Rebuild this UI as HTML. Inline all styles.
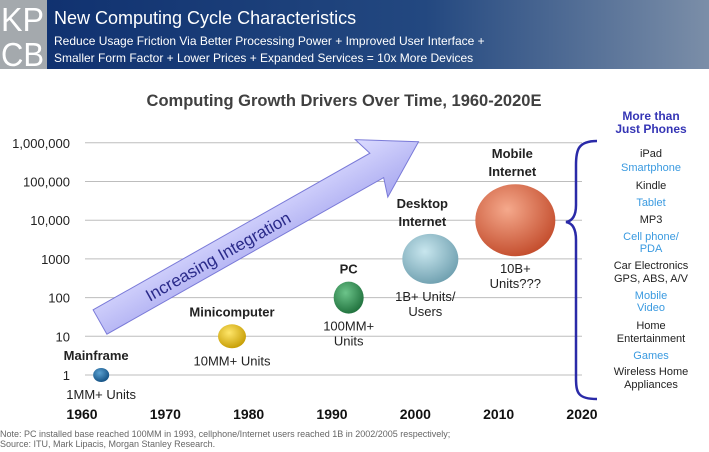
<!DOCTYPE html>
<html><head><meta charset="utf-8"><style>
body{margin:0;width:709px;height:452px;overflow:hidden;background:#fff;font-family:"Liberation Sans",sans-serif}
</style></head><body>
<svg width="709" height="452" xmlns="http://www.w3.org/2000/svg" style="position:absolute;left:0;top:0" font-family="Liberation Sans, sans-serif">
<defs>
<linearGradient id="hdr" x1="0" x2="1"><stop offset="0" stop-color="#0e2f6e"/><stop offset="0.6" stop-color="#234880"/><stop offset="1" stop-color="#7b8ea8"/></linearGradient>
<radialGradient id="gb" cx="0.4" cy="0.35" r="0.7"><stop offset="0" stop-color="#5aa0d0"/><stop offset="1" stop-color="#104d80"/></radialGradient>
<radialGradient id="gy" cx="0.4" cy="0.35" r="0.7"><stop offset="0" stop-color="#ffe66a"/><stop offset="1" stop-color="#c49a00"/></radialGradient>
<radialGradient id="gg" cx="0.4" cy="0.35" r="0.7"><stop offset="0" stop-color="#6cc48a"/><stop offset="1" stop-color="#1d6e3a"/></radialGradient>
<radialGradient id="gc" cx="0.4" cy="0.35" r="0.7"><stop offset="0" stop-color="#c8e6ee"/><stop offset="1" stop-color="#6d9eae"/></radialGradient>
<radialGradient id="gr" cx="0.4" cy="0.35" r="0.7"><stop offset="0" stop-color="#f5a98c"/><stop offset="1" stop-color="#c24a2a"/></radialGradient>
<linearGradient id="ga" x1="0" x2="0" y1="0" y2="1"><stop offset="0" stop-color="#dcdcff"/><stop offset="1" stop-color="#a9a9f0"/></linearGradient>
</defs>
<rect x="0" y="0" width="709" height="69" fill="url(#hdr)"/>
<rect x="0" y="0" width="47" height="69" fill="#a4a9ad"/>
<text x="1" y="31" font-size="33" fill="#fff" textLength="43" lengthAdjust="spacingAndGlyphs">KP</text>
<text x="1" y="66" font-size="33" fill="#fff" textLength="43" lengthAdjust="spacingAndGlyphs">CB</text>
<text x="54" y="24" font-size="18" fill="#fff">New Computing Cycle Characteristics</text>
<text x="54" y="45" font-size="12" fill="#fff">Reduce Usage Friction Via Better Processing Power + Improved User Interface +</text>
<text x="54" y="62" font-size="12" fill="#fff">Smaller Form Factor + Lower Prices + Expanded Services = 10x More Devices</text>
<text x="344" y="106" font-size="16.5" font-weight="bold" fill="#404040" text-anchor="middle">Computing Growth Drivers Over Time, 1960-2020E</text>
<g id="grid"></g>
<g transform="translate(100,322) rotate(-29.5)">
<polygon points="0,-14 318,-14 312,-33 366,0 312,33 318,14 0,14" fill="url(#ga)" stroke="#7a7ad8" stroke-width="1"/>
<text x="135" y="7" font-size="17" fill="#2a2a8a" text-anchor="middle">Increasing Integration</text>
</g>
<g id="marks"></g>
<path d="M597,141 C578,141 576,150 576,165 L576,205 C576,216 572,221 566,222 C572,223 576,228 576,240 L576,378 C576,393 578,399 597,399" fill="none" stroke="#2a2aa8" stroke-width="2.5"/>
<g font-size="11" text-anchor="middle">
<text x="651" y="120" font-size="12" font-weight="bold" fill="#3535b5">More than</text>
<text x="651" y="133" font-size="12" font-weight="bold" fill="#3535b5">Just Phones</text>
<text x="651" y="157" fill="#222">iPad</text>
<text x="651" y="171" fill="#3a9ae0">Smartphone</text>
<text x="651" y="189" fill="#222">Kindle</text>
<text x="651" y="206" fill="#3a9ae0">Tablet</text>
<text x="651" y="223" fill="#222">MP3</text>
<text x="651" y="240" fill="#3a9ae0">Cell phone/</text>
<text x="651" y="252" fill="#3a9ae0">PDA</text>
<text x="651" y="269" fill="#222">Car Electronics</text>
<text x="651" y="282" fill="#222">GPS, ABS, A/V</text>
<text x="651" y="299" fill="#3a9ae0">Mobile</text>
<text x="651" y="311" fill="#3a9ae0">Video</text>
<text x="651" y="329" fill="#222">Home</text>
<text x="651" y="342" fill="#222">Entertainment</text>
<text x="651" y="359" fill="#3a9ae0">Games</text>
<text x="651" y="375" fill="#222">Wireless Home</text>
<text x="651" y="388" fill="#222">Appliances</text>
</g>
<text x="0" y="437" font-size="9" fill="#666">Note: PC installed base reached 100MM in 1993, cellphone/Internet users reached 1B in 2002/2005 respectively;</text>
<text x="0" y="447" font-size="9" fill="#666">Source: ITU, Mark Lipacis, Morgan Stanley Research.</text>
</svg>
<script>
const yTicks=[1,10,100,1000,10000,100000,1000000];
const yTickLabels=["1","10","100","1000","10,000","100,000","1,000,000"];
const xTicks=[1960,1970,1980,1990,2000,2010,2020];
const eraNames=["Mainframe","Minicomputer","PC","Desktop Internet","Mobile Internet"];
const eraYears=[1962.3,1978,1992,2001.8,2012];
const eraUnits=[1,10,100,1000,10000];
const eraRx=[8,14,15,28,40];
const eraRy=[7,12,16,25,36];
const NS="http://www.w3.org/2000/svg";
const X=y=>82+(y-1960)*(500/60);
const Y=v=>375-Math.log10(v)*38.7;
function mk(t,a,p,txt){const e=document.createElementNS(NS,t);for(const k in a)e.setAttribute(k,a[k]);if(txt!=null)e.textContent=txt;p.appendChild(e);return e;}
const grid=document.getElementById('grid');
yTicks.forEach((v,i)=>{
 const l=mk('line',{x1:85,x2:582,y1:Y(v),y2:Y(v),stroke:'#bdbdbd','stroke-width':1},grid);
 
 
 const t=mk('text',{x:70,y:Y(v)+5,'font-size':13,fill:'#222','text-anchor':'end'},grid,yTickLabels[i]);
 
 
});
xTicks.forEach(v=>{
 const t=mk('text',{x:X(v),y:419,'font-size':14,'font-weight':'bold',fill:'#111','text-anchor':'middle'},grid,String(v));
 
 
});
const marks=document.getElementById('marks');
const fills=['url(#gb)','url(#gy)','url(#gg)','url(#gc)','url(#gr)'];
const names=[["Mainframe"],["Minicomputer"],["PC"],["Desktop","Internet"],["Mobile","Internet"]];
const units=[["1MM+ Units"],["10MM+ Units"],["100MM+","Units"],["1B+ Units/","Users"],["10B+","Units???"]];
const nameDx=[-5,0,0,-8,-3], unitDx=[0,0,0,-5,0];
eraYears.forEach((yr,i)=>{
 const cx=X(yr),cy=Y(eraUnits[i]);
 const b=mk('ellipse',{cx:cx,cy:cy,rx:eraRx[i],ry:eraRy[i],fill:fills[i]},marks);
 
 
 const nl=names[i];
 nl.forEach((s,j)=>{
  const t=mk('text',{x:cx+nameDx[i],y:cy-eraRy[i]-8-(nl.length-1-j)*18,'font-size':13,'font-weight':'bold',fill:'#222','text-anchor':'middle'},marks,s);
  
  
 });
 units[i].forEach((s,j)=>{
  const t=mk('text',{x:cx+unitDx[i],y:cy+eraRy[i]+17+j*15,'font-size':13,fill:'#222','text-anchor':'middle'},marks,s);
  
  
 });
});
</script>
</body></html>
